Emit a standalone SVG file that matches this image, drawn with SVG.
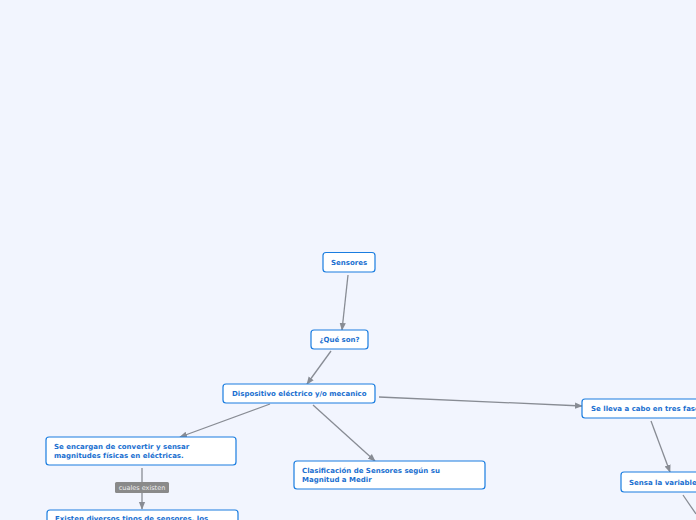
<svg xmlns="http://www.w3.org/2000/svg" width="696" height="520" viewBox="0 0 696 520">
<defs>
<style>
.n rect{fill:#fff;stroke:#1a7de0;stroke-width:1.2}
.n text{font-family:"DejaVu Sans",Verdana,sans-serif;font-weight:bold;font-size:7px;fill:#1a6fd0}
.c line{stroke:#888c94;stroke-width:1.3}
.lbl{font-family:"DejaVu Sans",sans-serif;font-size:6.5px;fill:#f0f0f0}
</style>
<marker id="a" viewBox="0 0 10 10" refX="9" refY="5" markerWidth="6" markerHeight="6" orient="auto"><path d="M0,1 L10,5 L0,9 z" fill="#888c94"/></marker>
</defs>
<rect width="696" height="520" fill="#f2f5fe"/>
<g class="c">
<line x1="348" y1="275" x2="342" y2="330" marker-end="url(#a)"/>
<line x1="331" y1="351" x2="307" y2="384" marker-end="url(#a)"/>
<line x1="270" y1="404" x2="180" y2="437" marker-end="url(#a)"/>
<line x1="313" y1="405" x2="375" y2="461" marker-end="url(#a)"/>
<line x1="379" y1="397" x2="582" y2="406" marker-end="url(#a)"/>
<line x1="142" y1="468" x2="142" y2="509" marker-end="url(#a)"/>
<line x1="651" y1="421" x2="670" y2="472" marker-end="url(#a)"/>
<line x1="683" y1="495" x2="696" y2="514"/>
<rect x="115" y="482" width="54" height="11" rx="1.5" fill="#8a8a8a"/>
<text class="lbl" x="142" y="490" text-anchor="middle">cuales existen</text>
</g>
<g id="sensores" class="n"><rect x="323" y="252.5" width="52" height="19.5" rx="3"/><text x="349" y="265" text-anchor="middle">Sensores</text></g>
<g id="queson" class="n"><rect x="311" y="330" width="57" height="19" rx="3"/><text x="339.5" y="342" text-anchor="middle">¿Qué son?</text></g>
<g id="dispositivo" class="n"><rect x="223" y="384" width="152" height="19" rx="3"/><text x="232" y="396">Dispositivo eléctrico y/o mecanico</text></g>
<g id="encargan" class="n"><rect x="46" y="437" width="190" height="28" rx="3"/><text x="54" y="449">Se encargan de convertir y sensar</text><text x="54" y="458">magnitudes físicas en eléctricas.</text></g>
<g id="clasificacion" class="n"><rect x="294" y="461" width="191" height="28" rx="3"/><text x="302" y="473">Clasificación de Sensores según su</text><text x="302" y="482">Magnitud a Medir</text></g>
<g id="existen" class="n"><rect x="47" y="510" width="191" height="20" rx="3"/><text x="55" y="521">Existen diversos tipos de sensores, los</text></g>
<g id="lleva" class="n"><rect x="582" y="399" width="130" height="19" rx="3"/><text x="591" y="411">Se lleva a cabo en tres fases</text></g>
<g id="sensa" class="n"><rect x="621" y="472" width="90" height="20" rx="3"/><text x="629" y="485">Sensa la variable</text></g>
</svg>
